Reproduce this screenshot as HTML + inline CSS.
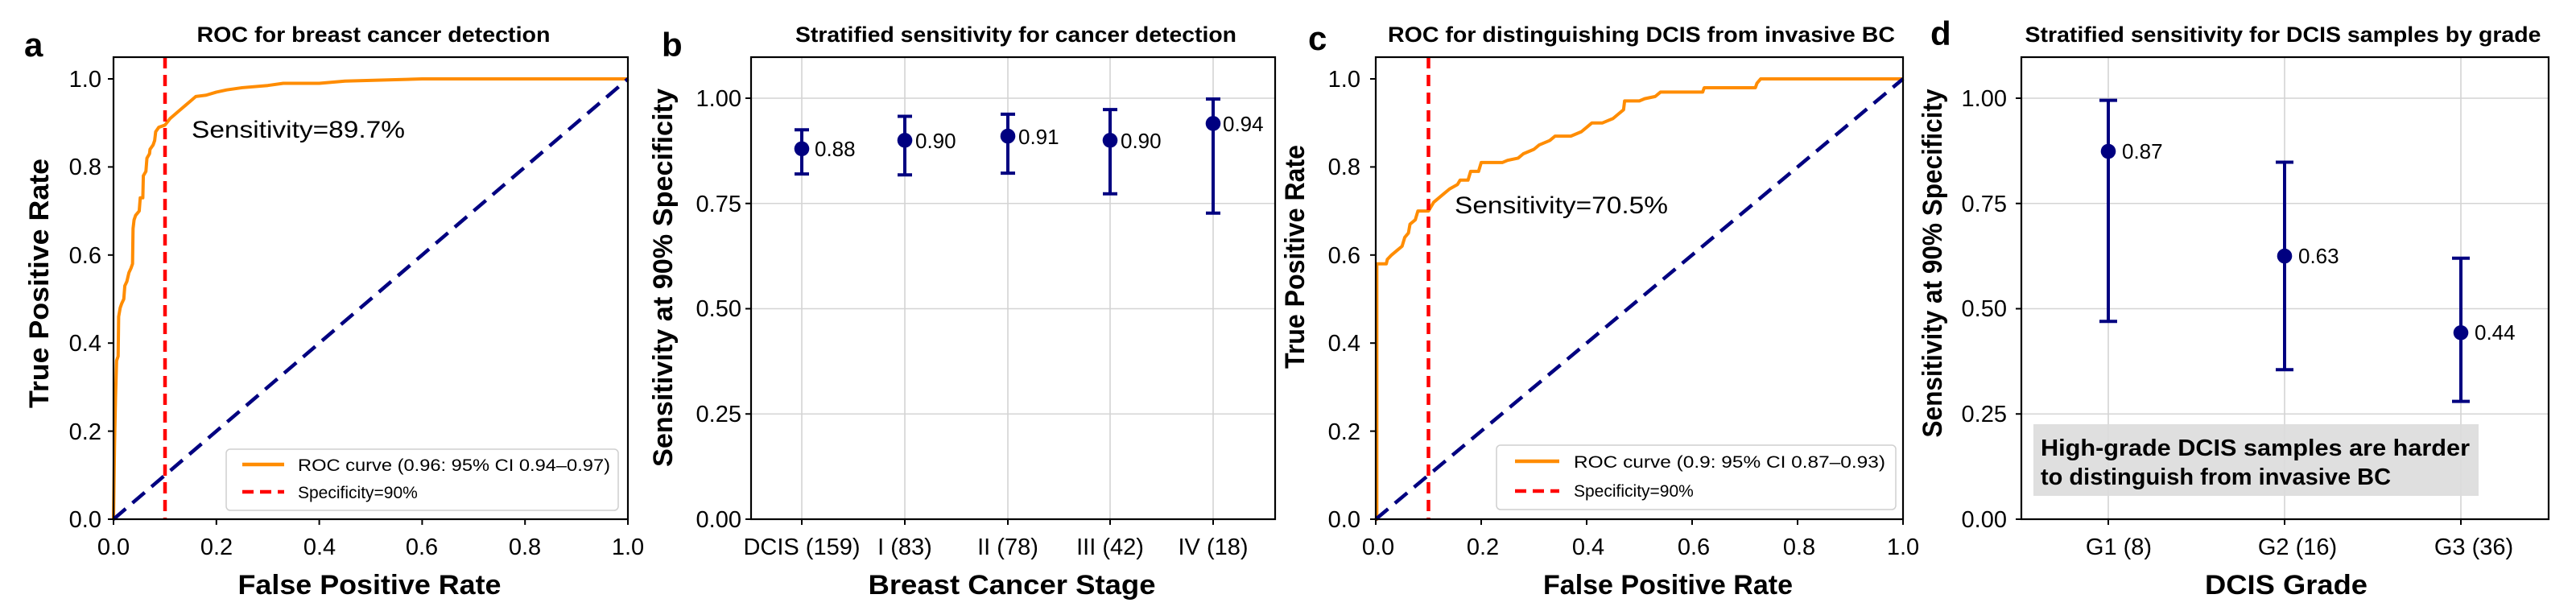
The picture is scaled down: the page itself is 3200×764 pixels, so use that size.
<!DOCTYPE html>
<html><head><meta charset="utf-8"><style>
html,body{margin:0;padding:0;background:#fff}
svg{display:block}
text{font-family:"Liberation Sans",Arial,sans-serif;fill:#000}
.t{font-size:27px;font-weight:bold}
.tk{font-size:29px}
.lb{font-size:34px;font-weight:bold}
.pl{font-size:42px;font-weight:bold}
.lg{font-size:21px}
.vl{font-size:26px;fill:#111}
.grid{stroke:#d4d4d4;stroke-width:1.6}
.ax{fill:none;stroke:#000;stroke-width:2.2}
.tm{stroke:#000;stroke-width:2}
.eb{stroke:#000080;stroke-width:4;fill:none}
</style></head><body>
<svg width="3200" height="764" viewBox="0 0 3200 764" xmlns="http://www.w3.org/2000/svg">

<!-- ================= PANEL A ================= -->
<text class="pl" x="30" y="70">a</text>
<text class="t" x="464" y="52" text-anchor="middle" textLength="439" lengthAdjust="spacingAndGlyphs">ROC for breast cancer detection</text>
<g transform="translate(141,645) scale(639,-547)">
<polyline fill="none" stroke="#ff8c00" stroke-width="4" vector-effect="non-scaling-stroke" stroke-linejoin="round"
points="0,0 0.002,0.17 0.004,0.28 0.006,0.36 0.009,0.37 0.01,0.46 0.013,0.48 0.016,0.49 0.02,0.5 0.022,0.53 0.026,0.54 0.03,0.56 0.034,0.57 0.037,0.58 0.038,0.66 0.04,0.68 0.043,0.69 0.05,0.70 0.052,0.73 0.057,0.73 0.058,0.78 0.063,0.79 0.065,0.82 0.07,0.83 0.071,0.84 0.077,0.85 0.08,0.86 0.082,0.88 0.088,0.89 0.1,0.895 0.11,0.91 0.12,0.92 0.13,0.93 0.14,0.94 0.15,0.95 0.16,0.96 0.18,0.963 0.2,0.97 0.22,0.975 0.25,0.98 0.3,0.985 0.33,0.99 0.4,0.99 0.45,0.995 0.6,1.0 1,1"/>
</g>
<line x1="141" y1="645" x2="780" y2="98" stroke="#000080" stroke-width="4.5" stroke-dasharray="20,11"/>
<line x1="205" y1="71" x2="205" y2="645" stroke="#ff0000" stroke-width="4.5" stroke-dasharray="14,8"/>
<rect class="ax" x="141" y="71" width="639" height="574"/>
<g class="tm">
<line x1="134" y1="645" x2="141" y2="645"/><line x1="134" y1="535.6" x2="141" y2="535.6"/><line x1="134" y1="426.2" x2="141" y2="426.2"/><line x1="134" y1="316.8" x2="141" y2="316.8"/><line x1="134" y1="207.4" x2="141" y2="207.4"/><line x1="134" y1="98" x2="141" y2="98"/>
<line x1="141" y1="645" x2="141" y2="652"/><line x1="268.8" y1="645" x2="268.8" y2="652"/><line x1="396.6" y1="645" x2="396.6" y2="652"/><line x1="524.4" y1="645" x2="524.4" y2="652"/><line x1="652.2" y1="645" x2="652.2" y2="652"/><line x1="780" y1="645" x2="780" y2="652"/>
</g>
<g class="tk" text-anchor="end">
<text x="126" y="655">0.0</text><text x="126" y="546">0.2</text><text x="126" y="436">0.4</text><text x="126" y="327">0.6</text><text x="126" y="217">0.8</text><text x="126" y="108">1.0</text>
</g>
<g class="tk" text-anchor="middle">
<text x="141" y="689">0.0</text><text x="269" y="689">0.2</text><text x="397" y="689">0.4</text><text x="524" y="689">0.6</text><text x="652" y="689">0.8</text><text x="780" y="689">1.0</text>
</g>
<text class="lb" x="459" y="738" text-anchor="middle" textLength="327" lengthAdjust="spacingAndGlyphs">False Positive Rate</text>
<text class="lb" transform="translate(60,352) rotate(-90)" text-anchor="middle" textLength="310" lengthAdjust="spacingAndGlyphs">True Positive Rate</text>
<text x="238" y="171" style="font-size:30px" textLength="265" lengthAdjust="spacingAndGlyphs">Sensitivity=89.7%</text>
<rect x="281" y="558" width="487" height="76" rx="5" fill="#fff" fill-opacity="0.85" stroke="#cfcfcf" stroke-width="1.5"/>
<line x1="301" y1="577" x2="353" y2="577" stroke="#ff8c00" stroke-width="4.5"/>
<line x1="301" y1="611" x2="353" y2="611" stroke="#ff0000" stroke-width="4.5" stroke-dasharray="14,8"/>
<text class="lg" x="370" y="585" textLength="388" lengthAdjust="spacingAndGlyphs">ROC curve (0.96: 95% CI 0.94–0.97)</text>
<text class="lg" x="370" y="619">Specificity=90%</text>

<!-- ================= PANEL B ================= -->
<text class="pl" x="822" y="70">b</text>
<text class="t" x="1262" y="52" text-anchor="middle" textLength="548" lengthAdjust="spacingAndGlyphs">Stratified sensitivity for cancer detection</text>
<g class="grid">
<line x1="933" y1="514.25" x2="1584" y2="514.25"/><line x1="933" y1="383.5" x2="1584" y2="383.5"/><line x1="933" y1="252.75" x2="1584" y2="252.75"/><line x1="933" y1="122" x2="1584" y2="122"/>
<line x1="996" y1="71" x2="996" y2="645"/><line x1="1124" y1="71" x2="1124" y2="645"/><line x1="1252" y1="71" x2="1252" y2="645"/><line x1="1379" y1="71" x2="1379" y2="645"/><line x1="1507" y1="71" x2="1507" y2="645"/>
</g>
<g class="eb">
<path d="M996 161.2V216.1M987 161.2H1005M987 216.1H1005"/>
<path d="M1124 144.5V217.2M1115 144.5H1133M1115 217.2H1133"/>
<path d="M1252 141.9V215.1M1243 141.9H1261M1243 215.1H1261"/>
<path d="M1379 136.1V240.7M1370 136.1H1388M1370 240.7H1388"/>
<path d="M1507 123V264.8M1498 123H1516M1498 264.8H1516"/>
</g>
<g fill="#000080">
<circle cx="996" cy="184.8" r="9.3"/><circle cx="1124" cy="174.3" r="9.3"/><circle cx="1252" cy="169.1" r="9.3"/><circle cx="1379" cy="174.3" r="9.3"/><circle cx="1507" cy="153.4" r="9.3"/>
</g>
<g class="vl">
<text x="1012" y="194">0.88</text><text x="1137" y="184">0.90</text><text x="1265" y="179">0.91</text><text x="1392" y="184">0.90</text><text x="1519" y="163">0.94</text>
</g>
<rect class="ax" x="933" y="71" width="651" height="574"/>
<g class="tm">
<line x1="926" y1="645" x2="933" y2="645"/><line x1="926" y1="514.25" x2="933" y2="514.25"/><line x1="926" y1="383.5" x2="933" y2="383.5"/><line x1="926" y1="252.75" x2="933" y2="252.75"/><line x1="926" y1="122" x2="933" y2="122"/>
<line x1="996" y1="645" x2="996" y2="652"/><line x1="1124" y1="645" x2="1124" y2="652"/><line x1="1252" y1="645" x2="1252" y2="652"/><line x1="1379" y1="645" x2="1379" y2="652"/><line x1="1507" y1="645" x2="1507" y2="652"/>
</g>
<g class="tk" text-anchor="end">
<text x="921" y="655">0.00</text><text x="921" y="524">0.25</text><text x="921" y="393">0.50</text><text x="921" y="263">0.75</text><text x="921" y="132">1.00</text>
</g>
<g class="tk" text-anchor="middle">
<text x="996" y="689">DCIS (159)</text><text x="1124" y="689">I (83)</text><text x="1252" y="689">II (78)</text><text x="1379" y="689">III (42)</text><text x="1507" y="689">IV (18)</text>
</g>
<text class="lb" x="1257" y="738" text-anchor="middle" textLength="357" lengthAdjust="spacingAndGlyphs">Breast Cancer Stage</text>
<text class="lb" transform="translate(835,345) rotate(-90)" text-anchor="middle" textLength="470" lengthAdjust="spacingAndGlyphs">Sensitivity at 90% Specificity</text>

<!-- ================= PANEL C ================= -->
<text class="pl" x="1625" y="62">c</text>
<text class="t" x="2039" y="52" text-anchor="middle" textLength="630" lengthAdjust="spacingAndGlyphs">ROC for distinguishing DCIS from invasive BC</text>
<g transform="translate(1709,645) scale(655,-547)">
<polyline fill="none" stroke="#ff8c00" stroke-width="4" vector-effect="non-scaling-stroke" stroke-linejoin="round"
points="0,0 0.002,0 0.002,0.58 0.02,0.58 0.022,0.59 0.03,0.6 0.04,0.61 0.05,0.62 0.055,0.64 0.062,0.65 0.065,0.67 0.075,0.68 0.08,0.70 0.1,0.70 0.105,0.71 0.11,0.72 0.12,0.73 0.13,0.74 0.14,0.75 0.155,0.76 0.16,0.77 0.175,0.77 0.18,0.79 0.195,0.79 0.2,0.81 0.24,0.81 0.25,0.815 0.27,0.82 0.28,0.83 0.3,0.84 0.31,0.85 0.33,0.86 0.34,0.87 0.37,0.87 0.38,0.875 0.39,0.88 0.4,0.89 0.41,0.9 0.43,0.9 0.44,0.905 0.45,0.91 0.46,0.92 0.47,0.93 0.472,0.95 0.5,0.95 0.51,0.955 0.53,0.96 0.54,0.97 0.62,0.97 0.623,0.98 0.72,0.98 0.723,0.99 0.73,1.0 1,1"/>
</g>
<line x1="1709" y1="645" x2="2364" y2="98" stroke="#000080" stroke-width="4.5" stroke-dasharray="20,11"/>
<line x1="1774.5" y1="71" x2="1774.5" y2="645" stroke="#ff0000" stroke-width="4.5" stroke-dasharray="14,8"/>
<rect class="ax" x="1709" y="71" width="655" height="574"/>
<g class="tm">
<line x1="1702" y1="645" x2="1709" y2="645"/><line x1="1702" y1="535.6" x2="1709" y2="535.6"/><line x1="1702" y1="426.2" x2="1709" y2="426.2"/><line x1="1702" y1="316.8" x2="1709" y2="316.8"/><line x1="1702" y1="207.4" x2="1709" y2="207.4"/><line x1="1702" y1="98" x2="1709" y2="98"/>
<line x1="1709" y1="645" x2="1709" y2="652"/><line x1="1840" y1="645" x2="1840" y2="652"/><line x1="1971" y1="645" x2="1971" y2="652"/><line x1="2102" y1="645" x2="2102" y2="652"/><line x1="2233" y1="645" x2="2233" y2="652"/><line x1="2364" y1="645" x2="2364" y2="652"/>
</g>
<g class="tk" text-anchor="end">
<text x="1690" y="655">0.0</text><text x="1690" y="546">0.2</text><text x="1690" y="436">0.4</text><text x="1690" y="327">0.6</text><text x="1690" y="217">0.8</text><text x="1690" y="108">1.0</text>
</g>
<g class="tk" text-anchor="middle">
<text x="1712" y="689">0.0</text><text x="1842" y="689">0.2</text><text x="1973" y="689">0.4</text><text x="2104" y="689">0.6</text><text x="2235" y="689">0.8</text><text x="2364" y="689">1.0</text>
</g>
<text class="lb" x="2072" y="738" text-anchor="middle" textLength="310" lengthAdjust="spacingAndGlyphs">False Positive Rate</text>
<text class="lb" transform="translate(1620,319) rotate(-90)" text-anchor="middle" textLength="278" lengthAdjust="spacingAndGlyphs">True Positive Rate</text>
<text x="1807" y="265" style="font-size:30px" textLength="265" lengthAdjust="spacingAndGlyphs">Sensitivity=70.5%</text>
<rect x="1859" y="553" width="496" height="80" rx="5" fill="#fff" fill-opacity="0.85" stroke="#cfcfcf" stroke-width="1.5"/>
<line x1="1882" y1="573" x2="1937" y2="573" stroke="#ff8c00" stroke-width="4.5"/>
<line x1="1882" y1="610" x2="1937" y2="610" stroke="#ff0000" stroke-width="4.5" stroke-dasharray="14,8"/>
<text class="lg" x="1955" y="581" textLength="387" lengthAdjust="spacingAndGlyphs">ROC curve (0.9: 95% CI 0.87–0.93)</text>
<text class="lg" x="1955" y="617">Specificity=90%</text>

<!-- ================= PANEL D ================= -->
<text class="pl" x="2398" y="56">d</text>
<text class="t" x="2836" y="52" text-anchor="middle" textLength="641" lengthAdjust="spacingAndGlyphs">Stratified sensitivity for DCIS samples by grade</text>
<g class="grid">
<line x1="2511" y1="514.25" x2="3166" y2="514.25"/><line x1="2511" y1="383.5" x2="3166" y2="383.5"/><line x1="2511" y1="252.75" x2="3166" y2="252.75"/><line x1="2511" y1="122" x2="3166" y2="122"/>
<line x1="2619" y1="71" x2="2619" y2="645"/><line x1="2838" y1="71" x2="2838" y2="645"/><line x1="3057" y1="71" x2="3057" y2="645"/>
</g>
<rect x="2526" y="527" width="553" height="89" fill="#dcdcdc" fill-opacity="0.9"/>
<text x="2535" y="566" style="font-size:29px;font-weight:bold" textLength="533" lengthAdjust="spacingAndGlyphs">High-grade DCIS samples are harder</text>
<text x="2535" y="602" style="font-size:29px;font-weight:bold">to distinguish from invasive BC</text>
<g class="eb">
<path d="M2619 124.6V399.2M2608 124.6H2630M2608 399.2H2630"/>
<path d="M2838 201.5V459.3M2827 201.5H2849M2827 459.3H2849"/>
<path d="M3057 320.7V498.6M3046 320.7H3068M3046 498.6H3068"/>
</g>
<g fill="#000080">
<circle cx="2619" cy="188" r="9.3"/><circle cx="2838" cy="318.1" r="9.3"/><circle cx="3057" cy="413.3" r="9.3"/>
</g>
<g class="vl">
<text x="2636" y="197">0.87</text><text x="2855" y="327">0.63</text><text x="3074" y="422">0.44</text>
</g>
<rect class="ax" x="2511" y="71" width="655" height="574"/>
<g class="tm">
<line x1="2504" y1="645" x2="2511" y2="645"/><line x1="2504" y1="514.25" x2="2511" y2="514.25"/><line x1="2504" y1="383.5" x2="2511" y2="383.5"/><line x1="2504" y1="252.75" x2="2511" y2="252.75"/><line x1="2504" y1="122" x2="2511" y2="122"/>
<line x1="2619" y1="645" x2="2619" y2="652"/><line x1="2838" y1="645" x2="2838" y2="652"/><line x1="3057" y1="645" x2="3057" y2="652"/>
</g>
<g class="tk" text-anchor="end">
<text x="2493" y="655">0.00</text><text x="2493" y="524">0.25</text><text x="2493" y="393">0.50</text><text x="2493" y="263">0.75</text><text x="2493" y="132">1.00</text>
</g>
<g class="tk" text-anchor="middle">
<text x="2632" y="689">G1 (8)</text><text x="2854" y="689">G2 (16)</text><text x="3073" y="689">G3 (36)</text>
</g>
<text class="lb" x="2840" y="738" text-anchor="middle" textLength="202" lengthAdjust="spacingAndGlyphs">DCIS Grade</text>
<text class="lb" transform="translate(2412,327) rotate(-90)" text-anchor="middle" textLength="433" lengthAdjust="spacingAndGlyphs">Sensitivity at 90% Specificity</text>
</svg>
</body></html>
